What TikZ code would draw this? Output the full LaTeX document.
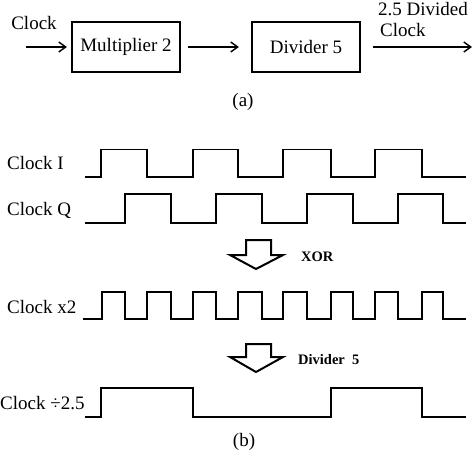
\documentclass[tikz,border=0pt]{standalone}
\usepackage{fontspec}
\setmainfont{Liberation Serif}
\usetikzlibrary{arrows.meta}
\begin{document}
\begin{tikzpicture}[x=1pt,y=-1pt,
  lbl/.style={inner sep=0pt,font=\fontsize{19}{21}\selectfont},
  blbl/.style={inner sep=0pt,font=\fontsize{14.5}{16}\selectfont\bfseries},
  blockbox/.style={draw,line width=2.2pt,minimum width=108pt,minimum height=50pt,inner sep=0pt,font=\fontsize{19}{21}\selectfont},
  conn/.style={line width=1.4pt,-{Straight Barb[length=7pt,width=10pt,line width=1.4pt]}},
  wave/.style={line width=1.8pt,line join=miter},
  hollow/.style={line width=2pt,line join=miter}]
\useasboundingbox (0,0) rectangle (474,455);
% (a) block diagram
\node[lbl] (clkin) at (34,23) {Clock};
\coordinate (inL) at (26,47);
\node[blockbox] (mul) at (126,47) {Multiplier 2};
\node[blockbox] (div) at (306,47) {Divider 5};
\coordinate (outR) at (472,47);
\draw[conn] (inL) -- ([xshift=-4pt]mul.west);
\draw[conn] ([xshift=7pt]mul.east) -- ([xshift=-12pt]div.west);
\draw[conn] ([xshift=12pt]div.east) -- (outR);
\node[lbl,anchor=base west] (outtxt1) at (378,16) {2.5 Divided};
\node[lbl,anchor=base west] (outtxt2) at (380,36) {Clock};
\node[lbl] (capa) at (243,102) {(a)};
% (b) waveforms
\node[lbl,anchor=west] (lI) at (7,163) {Clock I};
\node[lbl,anchor=west] (lQ) at (7,210) {Clock Q};
\node[lbl,anchor=west] (lx2) at (7,307) {Clock x2};
\node[lbl,anchor=west] (ld) at (0,403) {Clock ÷2.5};
\draw[wave] (85,177) -- (101,177) -- (101,149.5) -- (147,149.5) -- (147,177)
  -- (193,177) -- (193,149.5) -- (238,149.5) -- (238,177)
  -- (283,177) -- (283,149.5) -- (331,149.5) -- (331,177)
  -- (375,177) -- (375,149.5) -- (422,149.5) -- (422,177) -- (466,177);
\draw[wave] (85,223) -- (125,223) -- (125,194) -- (171,194) -- (171,223)
  -- (216,223) -- (216,194) -- (262,194) -- (262,223)
  -- (307,223) -- (307,194) -- (353,194) -- (353,223)
  -- (398,223) -- (398,194) -- (443,194) -- (443,223) -- (466,223);
\draw[wave] (83,319) -- (102,319) -- (102,292) -- (125,292) -- (125,319)
  -- (147,319) -- (147,292) -- (171,292) -- (171,319)
  -- (193,319) -- (193,292) -- (216,292) -- (216,319)
  -- (238,319) -- (238,292) -- (262,292) -- (262,319)
  -- (283,319) -- (283,292) -- (307,292) -- (307,319)
  -- (331,319) -- (331,292) -- (353,292) -- (353,319)
  -- (375,319) -- (375,292) -- (398,292) -- (398,319)
  -- (422,319) -- (422,292) -- (443,292) -- (443,319) -- (466,319);
\draw[wave] (85,417) -- (101,417) -- (101,388) -- (193,388) -- (193,417)
  -- (331,417) -- (331,388) -- (422,388) -- (422,417) -- (466,417);
% hollow arrows
\draw[hollow] (246,240) -- (271,240) -- (271,255) -- (283,255) -- (256,269) -- (230,255) -- (246,255) -- cycle;
\node[blbl,anchor=west] (xor) at (301,257) {XOR};
\draw[hollow] (246,344) -- (271,344) -- (271,357) -- (283,357) -- (256,372) -- (230,357) -- (246,357) -- cycle;
\node[blbl,anchor=west] (d5) at (298,360) {Divider\ \ 5};
\node[lbl] (capb) at (244,442) {(b)};
\end{tikzpicture}
\end{document}
